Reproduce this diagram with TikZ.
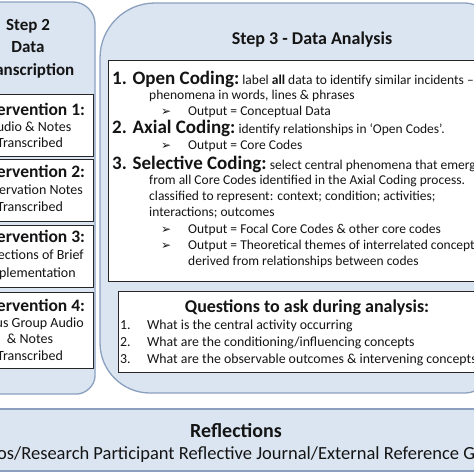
\documentclass[tikz,border=0pt]{standalone}
\usepackage{fontspec}
\setmainfont{Carlito}
\newfontfamily\djvfont{DejaVu Sans}
\definecolor{panelfill}{RGB}{219,229,241}
\definecolor{panelline}{RGB}{138,160,190}
\definecolor{ink}{RGB}{20,20,20}
\newcommand\hcfont{\fontsize{19}{22}\selectfont\bfseries}
\newcommand\bdfont{\fontsize{13.5}{16}\selectfont}
\newcommand\arw{{\djvfont\fontsize{12}{14}\selectfont ➢}}
\begin{document}
\begin{tikzpicture}[x=1pt,y=-1pt,
  panel/.style={fill=panelfill,draw=panelline,line width=1.3pt},
  wbox/.style={fill=white,draw=black!85,line width=1pt},
  ctxt/.style={inner sep=0pt,anchor=base,text=ink},
  ltxt/.style={inner sep=0pt,anchor=base west,text=ink},
  stephead/.style={ctxt,font=\fontsize{17}{20}\selectfont\bfseries},
  ivhead/.style={ctxt,font=\fontsize{17.5}{20}\selectfont\bfseries},
  ivtxt/.style={ctxt,font=\fontsize{14}{16}\selectfont},
  body/.style={ltxt,font=\bdfont},
  qtxt/.style={ltxt,font=\fontsize{13.8}{16}\selectfont}
]
\useasboundingbox (0,0) rectangle (474,474);
\clip (0,0) rectangle (474,474);

% ---------- Step 2 panel ----------
\draw[panel] (-45,2) -- (73,2) .. controls (85.1,2) and (95,11.9) .. (95,24)
  -- (95,376) .. controls (95,385.9) and (85.1,394) .. (77,394) -- (-45,394) -- cycle;
\node[stephead] (s2a) at (28,30) {Step 2};
\node[stephead] (s2b) at (28,52) {Data};
\node[stephead] (s2c) at (28,75) {\phantom{Tr}anscription};

\draw[wbox] (-36,94) rectangle (93,156);
\node[ivhead] (i1a) at (31,115) {\phantom{Int}ervention 1:};
\node[ivtxt] (i1b) at (30,131) {\phantom{A}udio \& Notes};
\node[ivtxt] (i1c) at (30,147) {Transcribed};

\draw[wbox] (-36,159) rectangle (93,221);
\node[ivhead] (i2a) at (31,177) {\phantom{Int}ervention 2:};
\node[ivtxt] (i2b) at (30,194) {\phantom{Obs}ervation Notes};
\node[ivtxt] (i2c) at (30,211) {Transcribed};

\draw[wbox] (-36,225) rectangle (93,287);
\node[ivhead] (i3a) at (31,242) {\phantom{Int}ervention 3:};
\node[ivtxt] (i3b) at (30,259) {\phantom{Refl}ections of Brief};
\node[ivtxt] (i3c) at (30,277) {\phantom{Im}plementation};

\draw[wbox] (-36,292) rectangle (93,368);
\node[ivhead] (i4a) at (31,311) {\phantom{Int}ervention 4:};
\node[ivtxt] (i4b) at (30,327) {\phantom{Foc}us Group Audio};
\node[ivtxt] (i4c) at (30,343) {\& Notes};
\node[ivtxt] (i4d) at (30,360) {Transcribed};

% ---------- Step 3 panel ----------
\draw[panel] (155,3) -- (465,3) .. controls (478.8,3) and (490,14.2) .. (490,28)
  -- (490,368) .. controls (490,381.8) and (478.8,393) .. (465,393)
  -- (150,393) .. controls (122.4,393) and (100,370.6) .. (100,343)
  -- (100,58) .. controls (100,27.6) and (124.6,3) .. (155,3) -- cycle;
\node[ctxt,font=\fontsize{18}{21}\selectfont\bfseries] (s3) at (312,44) {Step 3 - Data Analysis};

\draw[wbox] (108,60) rectangle (490,281);
\node[ltxt] (c1) at (112,84) {{\hcfont 1. Open Coding:}{\bdfont\ label \textbf{all} data to identify similar incidents –}};
\node[body] (c1b) at (149,99) {phenomena in words, lines \& phrases};
\node[ltxt] (b1) at (161,115) {\arw};
\node[body] (o1) at (188,115) {Output = Conceptual Data};
\node[ltxt] (c2) at (112,133) {{\hcfont 2. Axial Coding:}{\bdfont\ identify relationships in ‘Open Codes’.}};
\node[ltxt] (b2) at (161,149) {\arw};
\node[body] (o2) at (188,149) {Output = Core Codes};
\node[ltxt] (c3) at (112,169) {{\hcfont 3. Selective Coding:}{\bdfont\ select central phenomena that emerg}};
\node[body] (c3b) at (149,184) {from all Core Codes identified in the Axial Coding process.};
\node[body] (c3c) at (149,200) {classified to represent: context; condition; activities;};
\node[body] (c3d) at (149,216) {interactions; outcomes};
\node[ltxt] (b3) at (161,233) {\arw};
\node[body] (o3) at (188,233) {Output = Focal Core Codes \& other core codes};
\node[ltxt] (b4) at (161,249) {\arw};
\node[body] (o4) at (188,249) {Output = Theoretical themes of interrelated concept};
\node[body] (o4b) at (188,265) {derived from relationships between codes};

\draw[wbox] (118,291) rectangle (490,372);
\node[ctxt,font=\fontsize{18}{21}\selectfont\bfseries] (qh) at (307,312) {Questions to ask during analysis:};
\node[qtxt] (q1n) at (120,329) {1.};
\node[qtxt] (q1) at (147,329) {What is the central activity occurring};
\node[qtxt] (q2n) at (120,346) {2.};
\node[qtxt] (q2) at (147,346) {What are the conditioning/influencing concepts};
\node[qtxt] (q3n) at (120,363) {3.};
\node[qtxt] (q3) at (147,363) {What are the observable outcomes \& intervening concepts};

% ---------- Reflections band ----------
\draw[panel] (-5,409) rectangle (480,471);
\node[ctxt,font=\fontsize{20}{23}\selectfont\bfseries] (rh) at (236,437) {Reflections};
\node[ltxt,font=\fontsize{18.5}{21}\selectfont] (rl) at (-3,459) {os/Research Participant Reflective Journal/External Reference G};
\end{tikzpicture}
\end{document}
